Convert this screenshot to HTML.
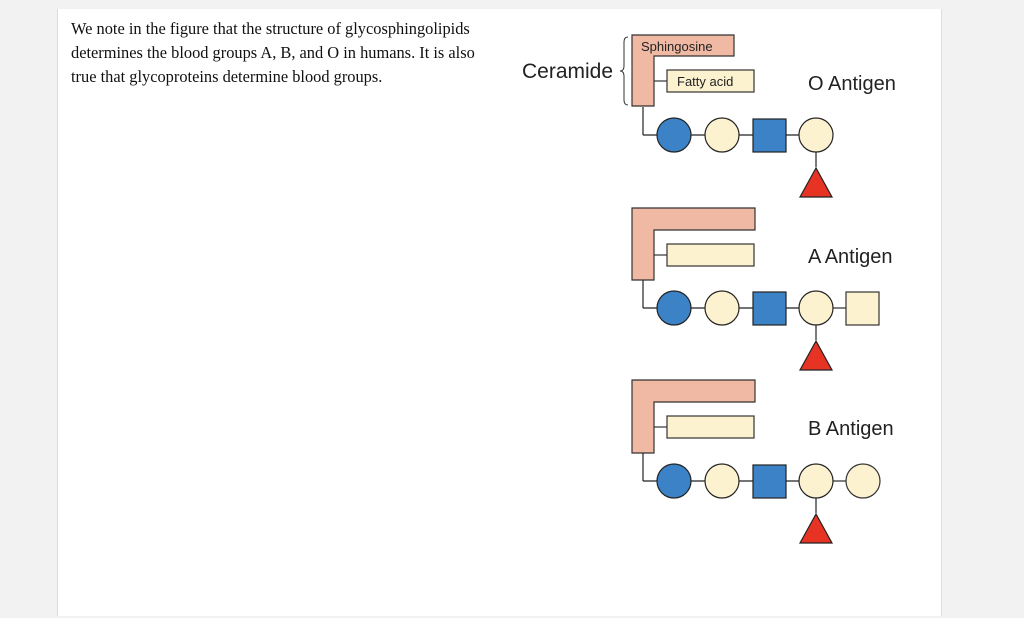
<!DOCTYPE html>
<html><head><meta charset="utf-8"><style>
html,body{margin:0;padding:0;background:#f2f2f2;width:1024px;height:618px;overflow:hidden}
.card{position:absolute;left:57px;top:9px;width:883px;height:607px;background:#fff;border-left:1px solid #ddd;border-right:1px solid #ddd}
.txt{position:absolute;left:71px;top:17px;width:425px;font-family:"Liberation Serif",serif;font-size:16.4px;line-height:24px;color:#111}
svg{position:absolute;left:0;top:0}
</style></head><body>
<div class="card"></div>
<div class="txt">We note in the figure that the structure of glycosphingolipids determines the blood groups A, B, and O in humans. It is also<br>true that glycoproteins determine blood groups.</div>
<svg width="1024" height="618" font-family="Liberation Sans, sans-serif">
<defs>
<g id="chain" stroke="#222" stroke-width="1.2">
<line x1="643" y1="0" x2="643" y2="28" />
<line x1="643" y1="28" x2="830" y2="28"/>
<line x1="816" y1="28" x2="816" y2="60"/>
<circle cx="674" cy="28" r="17" fill="#3b82c6"/>
<circle cx="722" cy="28" r="17" fill="#fdf2cf"/>
<rect x="753" y="12" width="33" height="33" fill="#3b82c6"/>
<circle cx="816" cy="28" r="17" fill="#fdf2cf"/>
<polygon points="816,61 800,90 832,90" fill="#e63323"/>
</g>
</defs>
<!-- O -->
<g stroke="#333" stroke-width="1.2">
<path d="M632,35 H734 V56 H654 V106 H632 Z" fill="#efb9a3"/>
<line x1="654" y1="81" x2="667" y2="81"/>
<rect x="667" y="70" width="87" height="22" fill="#fdf2cf"/>
<path d="M628,37 Q624,37 624,42 V66 Q624,71 620,71 Q624,71 624,76 V100 Q624,105 628,105" fill="none" stroke-width="1"/>
</g>
<use href="#chain" y="107"/>
<text x="641" y="51" font-size="13" fill="#222">Sphingosine</text>
<text x="677" y="86" font-size="13" fill="#222">Fatty acid</text>
<text x="522" y="78" font-size="21" fill="#222">Ceramide</text>
<text x="808" y="90" font-size="20" fill="#222">O Antigen</text>
<!-- A -->
<g stroke="#333" stroke-width="1.2">
<path d="M632,208 H755 V230 H654 V280 H632 Z" fill="#efb9a3"/>
<line x1="654" y1="255" x2="667" y2="255"/>
<rect x="667" y="244" width="87" height="22" fill="#fdf2cf"/>
<line x1="830" y1="308" x2="848" y2="308"/>
<rect x="846" y="292" width="33" height="33" fill="#fdf2cf"/>
</g>
<use href="#chain" y="280"/>
<text x="808" y="263" font-size="20" fill="#222">A Antigen</text>
<!-- B -->
<g stroke="#333" stroke-width="1.2">
<path d="M632,380 H755 V402 H654 V453 H632 Z" fill="#efb9a3"/>
<line x1="654" y1="427" x2="667" y2="427"/>
<rect x="667" y="416" width="87" height="22" fill="#fdf2cf"/>
<line x1="830" y1="481" x2="848" y2="481"/>
<circle cx="863" cy="481" r="17" fill="#fdf2cf"/>
</g>
<use href="#chain" y="453"/>
<text x="808" y="435" font-size="20" fill="#222">B Antigen</text>
</svg>
</body></html>
